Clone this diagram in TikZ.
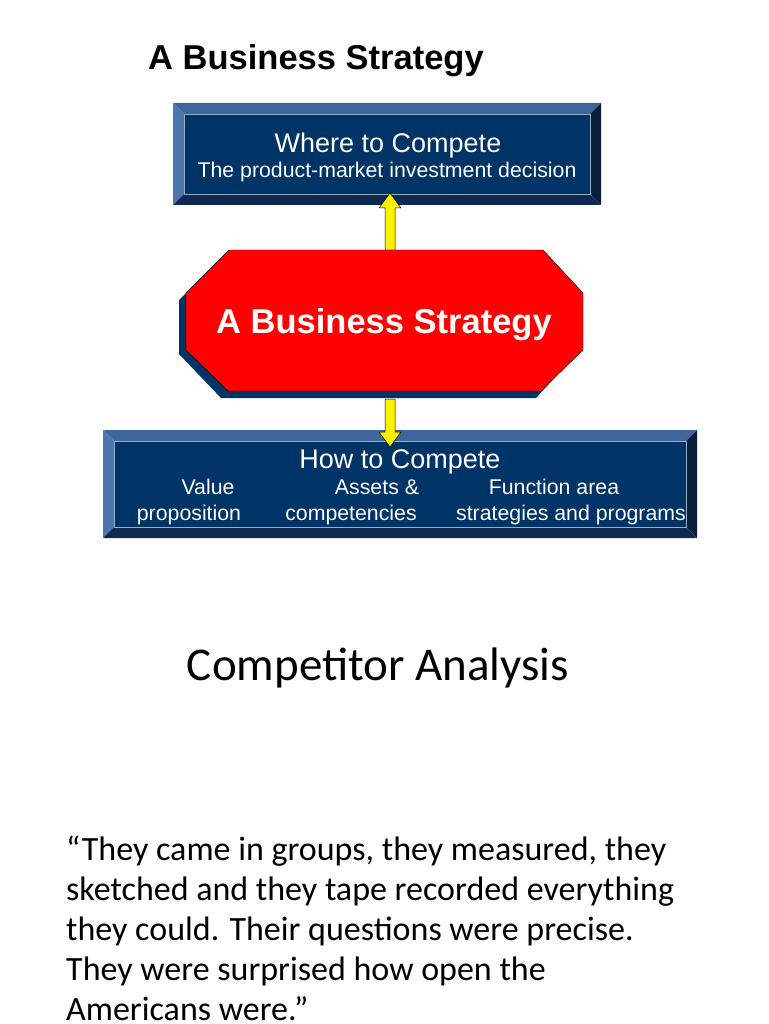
\documentclass[tikz,border=0pt]{standalone}
\usepackage{fontspec}
\setmainfont{Liberation Sans}
\newfontfamily\calib{Carlito}
\definecolor{navy}{HTML}{003366}
\definecolor{btop}{HTML}{3F6699}
\definecolor{bleft}{HTML}{4B77AA}
\definecolor{bright}{HTML}{0A1E3C}
\definecolor{bbot}{HTML}{0F2A52}
\newcommand{\bevbox}[5]{% name x1 y1 x2 y2
  \fill[btop] (#2,#3) -- (#4,#3) -- (#4-11,#3+11) -- (#2+11,#3+11) -- cycle;
  \fill[bleft] (#2,#3) -- (#2+11,#3+11) -- (#2+11,#5-11) -- (#2,#5) -- cycle;
  \fill[bright] (#4,#3) -- (#4,#5) -- (#4-11,#5-11) -- (#4-11,#3+11) -- cycle;
  \fill[bbot] (#2,#5) -- (#4,#5) -- (#4-11,#5-11) -- (#2+11,#5-11) -- cycle;
  \fill[navy] (#2+11,#3+11) rectangle (#4-11,#5-11);
  \draw[white!60!navy,line width=0.5pt] (#2+11,#3+11) rectangle (#4-11,#5-11);
  \coordinate (#1) at ({(#2+#4)/2},{(#3+#5)/2});
}
\tikzset{
  yarrow/.style={fill=yellow,draw=black,line width=0.5pt},
  wtext/.style={text=white,inner sep=0pt,anchor=base},
  quote/.style={anchor=base west,inner sep=0pt,font=\calib\fontsize{34}{40}\selectfont}
}
\begin{document}
\begin{tikzpicture}[x=1pt,y=-1pt]
\useasboundingbox (0,0) rectangle (768,1024);
\fill[white] (0,0) rectangle (768,1024);
\node[anchor=base,inner sep=0pt,font=\bfseries\fontsize{34.5}{40}\selectfont] (title) at (316,70) {A Business Strategy};
% arrows
\coordinate (atop) at (390,193);
\coordinate (abot) at (390,447);
% top box
\bevbox{wbox}{173}{103}{601}{205}
\node[wtext,font=\fontsize{27}{32}\selectfont] (w1) at (388,153) {Where to Compete};
\node[wtext,font=\fontsize{21.3}{25}\selectfont] (w2) at (387,178) {The product-market investment decision};
\draw[yarrow] (atop) -- (401,208) -- (395,208) -- (395,250) -- (385,250) -- (385,208) -- (379,208) -- cycle;
% octagon shadow
\fill[navy] (222,257) -- (536,257) -- (576,300) -- (576,354) -- (536,398) -- (221,398) -- (179,354) -- (179,300) -- cycle;
\draw[fill=red,draw=black,line width=0.4pt] (229,250) -- (543,250) -- (583,293) -- (583,350) -- (541,391) -- (228,391) -- (186,350) -- (186,293) -- cycle;
\node[wtext,font=\bfseries\fontsize{34.5}{40}\selectfont] (oct) at (384,333) {A Business Strategy};
% bottom box
\bevbox{hbox}{103}{430}{697}{538}
\draw[yarrow] (abot) -- (401,432) -- (395,432) -- (395,399) -- (385,399) -- (385,432) -- (379,432) -- cycle;
\node[wtext,font=\fontsize{27}{32}\selectfont] (h1) at (400,468) {How to Compete};
\begin{scope}[every node/.style={wtext,font=\fontsize{21.3}{25}\selectfont}]
\node (v1) at (208,494) {Value};
\node (v2) at (189,520) {proposition};
\node (a1) at (377,494) {Assets \&};
\node (a2) at (351,520) {competencies};
\node (f1) at (554,494) {Function area};
\node (f2) at (571,520) {strategies and programs};
\end{scope}
\node[anchor=base,inner sep=0pt,font=\calib\fontsize{47}{54}\selectfont] (ca) at (378,680) {Competitor Analysis};
\node[quote] (q1) at (66,860) {“They came in groups, they measured, they};
\node[quote] (q2) at (66,900) {sketched and they tape recorded everything};
\node[quote] (q3) at (66,940) {they could. Their questions were precise.};
\node[quote] (q4) at (66,980) {They were surprised how open the};
\node[quote] (q5) at (66,1020) {Americans were.”};
\end{tikzpicture}
\end{document}
